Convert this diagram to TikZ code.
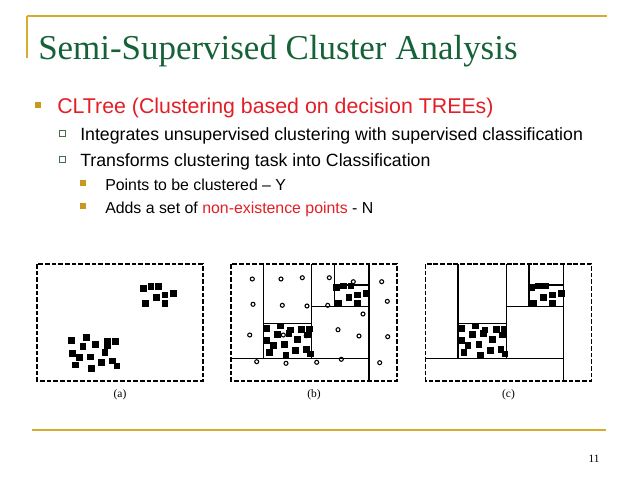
\documentclass[tikz,border=0pt]{standalone}
\usepackage{fontspec}
\setmainfont{Liberation Serif}
\setsansfont{Liberation Sans}
\usepackage{tikz}

\definecolor{titlegreen}{RGB}{22,98,56}
\definecolor{rulegold}{RGB}{214,172,46}
\definecolor{bulletgold}{RGB}{201,152,32}
\definecolor{cltred}{RGB}{226,30,38}
\definecolor{boxgreen}{RGB}{70,110,70}

\tikzset{
  linetext/.style={anchor=base west, inner sep=0pt},
  bulletone/.style={fill=bulletgold, minimum size=5.2pt, inner sep=0pt},
  bullettwo/.style={draw=boxgreen, line width=0.5pt, fill=white, minimum size=4.4pt, inner sep=0pt},
  bulletthree/.style={fill=bulletgold, minimum size=4pt, inner sep=0pt},
  panelbox/.style={line width=1.4pt, dash pattern=on 3.6pt off 1.4pt},
  cutline/.style={line width=1.05pt},
  caplabel/.style={inner sep=0pt, font=\fontsize{8.6}{10}\selectfont}
}

% partition of the data space, shared by (b) and (c)
\newcommand{\treecuts}{%
  \draw [cutline] (32.3,0) -- (32.3,94.3);
  \draw [cutline] (0,94.3) -- (138,94.3);
  \draw [cutline] (138,0) -- (138,117);
  \draw [cutline] (80.7,0) -- (80.7,94.3);
  \draw [cutline] (32.3,59.3) -- (80.7,59.3);
  \draw [cutline] (80.7,42.7) -- (138,42.7);
  \draw [cutline] (103.3,0) -- (103.3,42.7);
  \draw [cutline] (103.3,21) -- (138,21);
}
% the Y points, as placed in (b) and (c)
\newcommand{\clusterpts}{%
  \foreach \px/\py in {105.7/23.7, 112.7/22, 120/22, 135.7/29.3, 126.7/31, 118/33.7,
      107.7/39.3, 126.7/39.3, 35.7/64.3, 49.7/62, 59.3/66, 70.7/65.3, 78.3/65,
      46.7/70.3, 58/69.7, 76.7/71, 35.7/76.7, 42.3/81.7, 53.3/80.3, 66.7/75.7,
      38.3/88.7, 64.7/86.7, 75.3/85.3, 55/91.7, 79.3/90}
    \fill (\px-3.3,\py-3.3) rectangle ++(6.6,6.6);
}

\begin{document}
\begin{tikzpicture}[x=0.75pt,y=0.75pt,yscale=-1,xscale=1]
\useasboundingbox (0,0) rectangle (638,478);

%Straight Lines: title rules
\draw [rulegold, line width=0.9pt] (27,16) -- (607,16);
\draw [rulegold, line width=0.9pt] (27,16) -- (27,58);
\draw [rulegold, line width=1.1pt] (32,430) -- (606,430);

% Text Node: title
\node (title) [linetext, text=titlegreen, font=\fontsize{26.2}{32}\selectfont] at (38,60) {Semi-Supervised Cluster Analysis};

% bullets and text lines
\node (bltree) [bulletone] at (38,105) {};
\node (cltree) [linetext, text=cltred, font=\sffamily\fontsize{16}{19}\selectfont] at (57,113) {CLTree (Clustering based on decision TREEs)};
\node (blinteg) [bullettwo] at (62,133) {};
\node (integ) [linetext, font=\sffamily\fontsize{13.3}{16}\selectfont] at (80,140) {Integrates unsupervised clustering with supervised classification};
\node (bltrans) [bullettwo] at (62,159) {};
\node (trans) [linetext, font=\sffamily\fontsize{13.3}{16}\selectfont] at (80,166) {Transforms clustering task into Classification};
\node (blpoints) [bulletthree] at (83,183) {};
\node (points) [linetext, font=\sffamily\fontsize{11.9}{14}\selectfont] at (105,190) {Points to be clustered -- Y};
\node (bladds) [bulletthree] at (83,206) {};
\node (adds) [linetext, font=\sffamily\fontsize{11.9}{14}\selectfont] at (105,213) {Adds a set of \textcolor{cltred}{non-existence points} - N};

%Panel (a): raw data
\begin{scope}[shift={(37,264)}]
  \foreach \px/\py in {106.7/24.3, 114/22.7, 121.3/22.7, 136.7/29.3, 128/31, 119.3/33.7,
      108.7/39.7, 128/39.3, 34.7/76.3, 49.3/73.3, 70.3/77, 78.7/77.7, 46/82.3,
      58.7/80.3, 70.3/81.7, 35.3/89.3, 68/88.7, 42.7/93.7, 53.7/93, 64.7/98.3,
      75.3/97, 38.7/101, 80/102, 54.7/104.7}
    \fill (\px-3.3,\py-3.3) rectangle ++(6.6,6.6);
  \draw [panelbox] (0,0) rectangle (166,117);
\end{scope}
\node (capa) [caplabel] at (120,395) {(a)};

%Panel (b): Y points and N points with the tree cuts
\begin{scope}[shift={(231,264)}]
  \treecuts
  \clusterpts
  \foreach \cx/\cy in {21.3/15, 50/15, 71.3/13.7, 98.3/13.7, 122.3/17.7, 150.7/17.7,
      22/40.3, 51.3/41.3, 76/42, 96.7/41.3, 156.3/37.3, 132/50, 18.7/71, 52.3/71,
      75.3/71.7, 107/65.7, 128/72, 156.7/72.7, 25.7/97.7, 55/99.3, 85.7/98.3,
      110.3/95.3, 148.7/98.7}
    \draw [line width=0.8pt] (\cx,\cy) circle [radius=2];
  \draw [panelbox] (0,0) rectangle (166,117);
\end{scope}
\node (capb) [caplabel] at (314,395) {(b)};

%Panel (c): resulting cluster regions
\begin{scope}[shift={(425.5,264)}]
  \treecuts
  \clusterpts
  \draw [panelbox] (0,0) rectangle (166,117);
\end{scope}
\node (capc) [caplabel] at (508.5,395) {(c)};

% Text Node: page number
\node (pagenum) [inner sep=0pt, font=\fontsize{8.4}{10}\selectfont] at (594,459) {11};

\end{tikzpicture}
\end{document}
